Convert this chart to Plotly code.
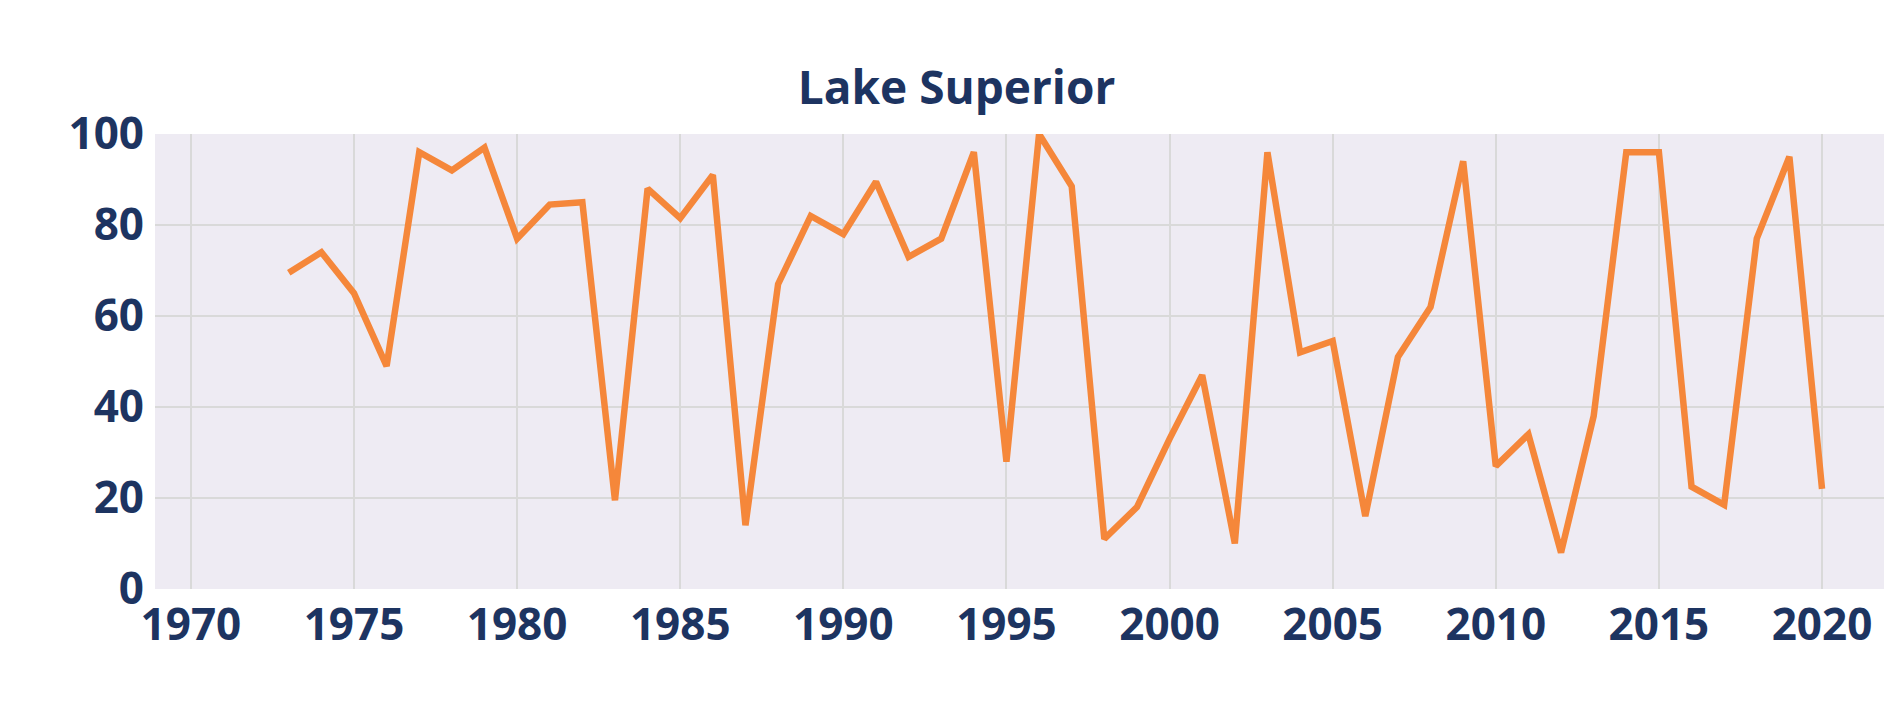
import plotly.graph_objects as go

years = list(range(1973, 2021))
ice_cover = [69.5, 74, 65, 49, 96, 92, 97, 77, 84.5, 85,
             19.5, 88, 81.5, 91, 14, 67, 82, 78, 89.5, 73,
             77, 96, 28, 100, 88.5, 11, 18, 33, 47, 10,
             96, 52, 54.5, 16, 51, 62, 94, 27, 34, 8,
             38, 96, 96, 22.5, 18.5, 77, 95, 22]

navy = "#1d3461"

fig = go.Figure(go.Scatter(
    x=years, y=ice_cover, mode="lines",
    line=dict(color="#f5873a", width=6.5),
))

fig.update_layout(
    width=1897, height=725,
    paper_bgcolor="white", plot_bgcolor="#eeebf3",
    margin=dict(l=147, r=21, t=126, b=144),
    showlegend=False,
    title=dict(text="<b>Lake Superior</b>", x=0.5, xanchor="center", y=0.89, yanchor="middle",
               font=dict(family="Open Sans", size=46, color=navy)),
    font=dict(family="Open Sans", color=navy),
)
fig.update_xaxes(range=[1968.9, 2021.9], tickmode="linear", tick0=1970, dtick=5,
                 showgrid=True, gridcolor="#d9d9d9", gridwidth=2, zeroline=False,
                 tickfont=dict(size=44, family="Open Sans", color=navy),
                 ticklabelstandoff=6, tickprefix="<b>", ticksuffix="</b>")
fig.update_yaxes(range=[0, 100], dtick=20, showgrid=True, gridcolor="#d9d9d9", gridwidth=2,
                 zeroline=False, tickfont=dict(size=44, family="Open Sans", color=navy),
                 ticklabelstandoff=10, tickprefix="<b>", ticksuffix="</b>")

fig.write_html("out.html")
